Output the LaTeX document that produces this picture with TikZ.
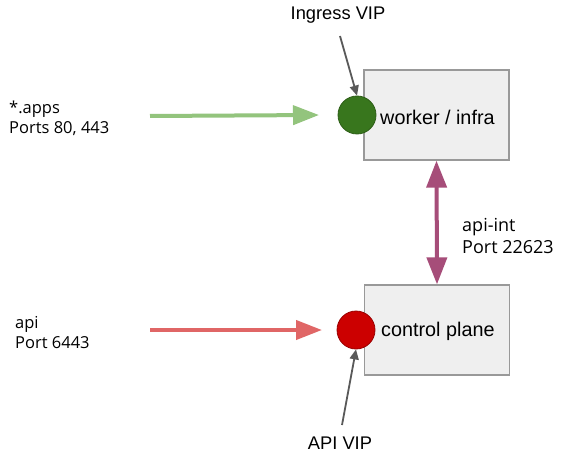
\documentclass[tikz,border=0pt]{standalone}
\usepackage{fontspec}
\usepackage{xcolor}
\setmainfont{Liberation Sans}
\newfontfamily\labelfont{Open Sans}
\usetikzlibrary{arrows.meta}

\definecolor{boxfill}{HTML}{EFEFEF}
\definecolor{boxline}{HTML}{999999}
\definecolor{ingressgreen}{HTML}{38761D}
\definecolor{appsgreen}{HTML}{93C47D}
\definecolor{apired}{HTML}{CC0000}
\definecolor{apiarrow}{HTML}{E06666}
\definecolor{intpurple}{HTML}{A64D79}
\definecolor{vipgray}{HTML}{595959}

\tikzset{
  hostbox/.style = {draw=boxline, fill=boxfill, line width=1.3pt, minimum width=145pt, minimum height=90pt},
  vipdot/.style = {circle, minimum size=38pt, inner sep=0pt, line width=0.8pt},
  portlabel/.style = {font=\labelfont\fontsize{16.5}{20}\selectfont, align=left, inner sep=0pt},
  viplabel/.style = {font=\fontsize{18.3}{21}\selectfont, inner sep=0pt},
  hostlabel/.style = {font=\fontsize{19.8}{23}\selectfont, inner sep=0pt},
  bigarrow/.style = {line width=4pt, -{Triangle[length=26pt,width=19pt]}},
  viparrow/.style = {draw=vipgray, line width=1.8pt, -{Triangle[length=10pt,width=9pt]}}
}

\begin{document}
\begin{tikzpicture}[x=1pt, y=-1pt]
            \useasboundingbox[fill=white] (0,0) rectangle (561,465);
            % hosts
            \node[hostbox] (worker) at (436.5,115) {};
            \node[hostbox] (control) at (437,330) {};
            \node[hostlabel, anchor=west] (workertxt) at (380,117) {worker / infra};
            \node[hostlabel, anchor=west] (controltxt) at (381,331) {control plane};
            % VIPs
            \node[vipdot, fill=ingressgreen, draw=ingressgreen!80!black] (wcirc) at (357,115) {};
            \node[vipdot, fill=apired, draw=apired!75!black] (rcirc) at (356,330) {};
            \node[viplabel] (ingress) at (338,15) {Ingress VIP};
            \node[viplabel] (apivip) at (340,443) {API VIP};
            \coordinate (ingtail) at (340,36);
            \coordinate (apitail) at (342,425);
            \draw[viparrow] (ingtail) -- (wcirc.north);
            \draw[viparrow] (apitail) -- (rcirc.south);
            % incoming traffic
            \node[portlabel, anchor=west] (apps) at (9,118) {*.apps\\Ports 80, 443};
            \node[portlabel, anchor=west] (api) at (15,333) {api\\Port 6443};
            \node[portlabel, anchor=west, font=\labelfont\fontsize{18}{22}\selectfont] (apiint) at (462,236) {api-int\\Port 22623};
            \coordinate (appsin) at (150,116);
            \coordinate (apiin) at (150,330);
            \draw[bigarrow, appsgreen] (appsin) -- (wcirc.west -| 319,0);
            \draw[bigarrow, apiarrow] (apiin) -- (rcirc.west -| 322,0);
            % internal api
            \draw[line width=4pt, intpurple, {Triangle[length=27pt,width=20pt]}-{Triangle[length=27pt,width=20pt]}] (worker.south) -- (control.north);
            \end{tikzpicture}
\end{document}
